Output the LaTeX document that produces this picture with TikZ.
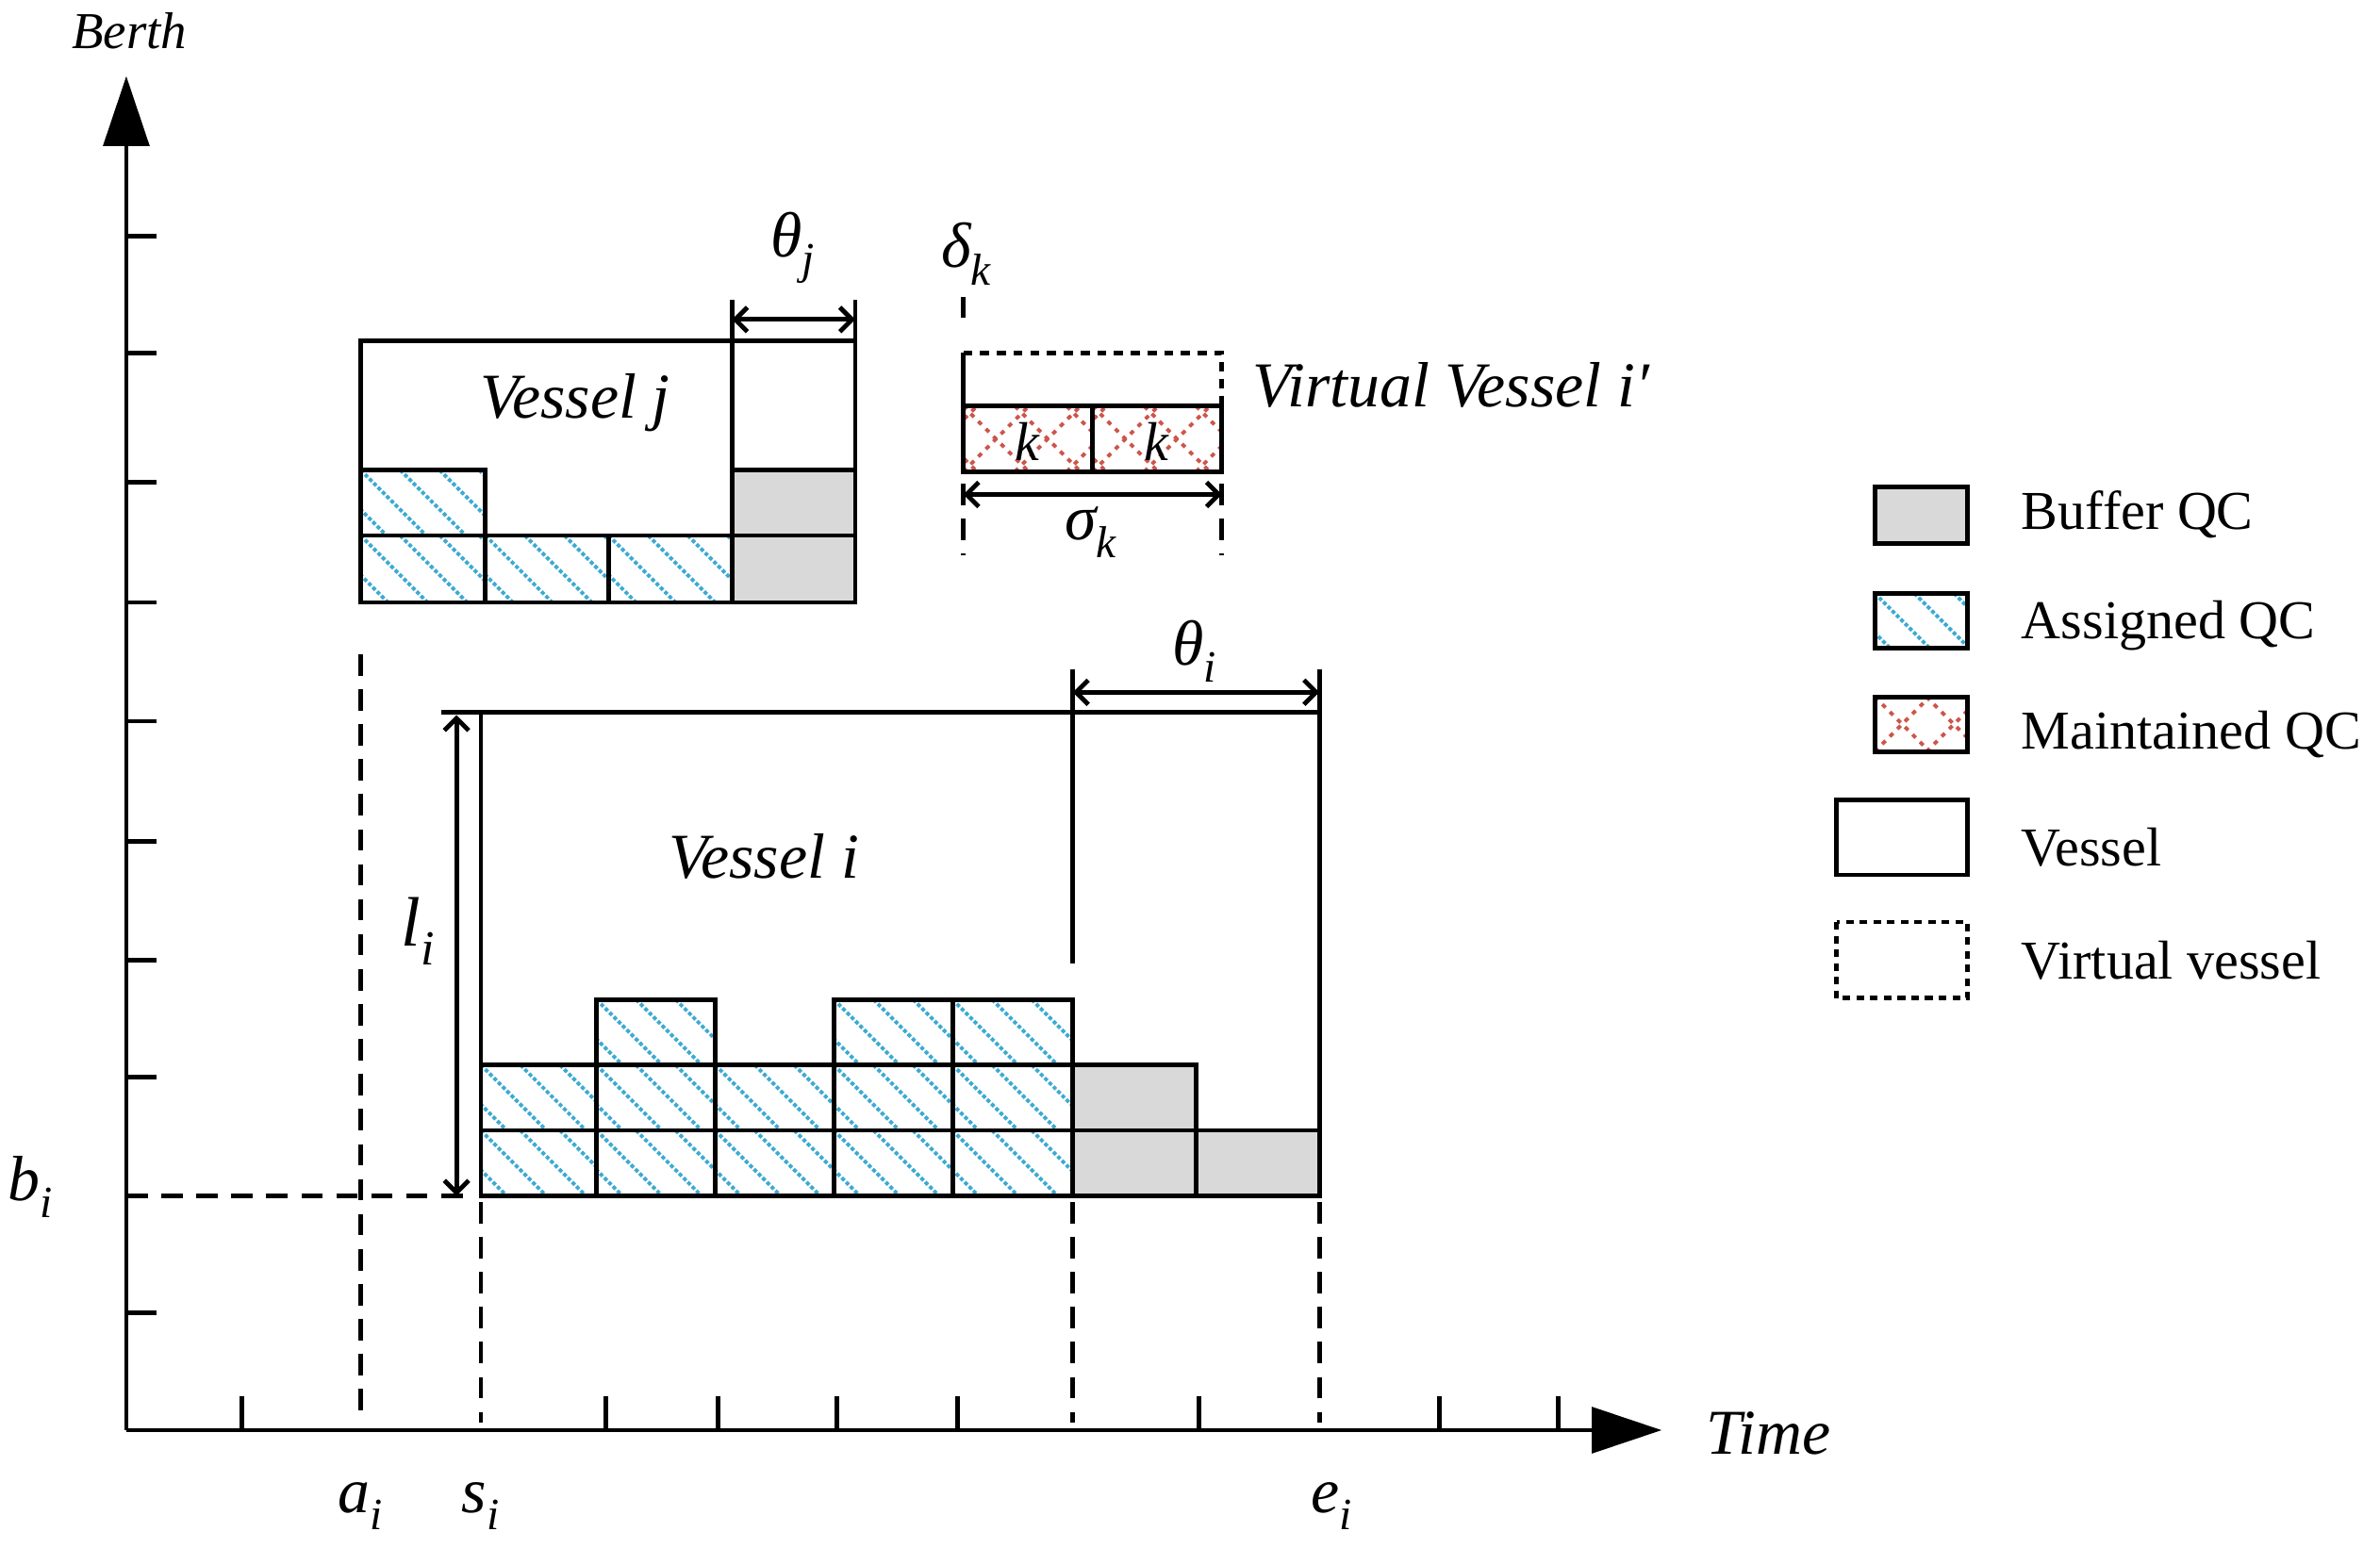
\documentclass[tikz,border=0pt]{standalone}
\usepackage{fontspec}
\setmainfont{Liberation Serif}
\usetikzlibrary{arrows.meta}
\definecolor{hcyan}{RGB}{60,170,210}
\definecolor{hred}{RGB}{205,85,75}
\definecolor{bgray}{RGB}{217,217,217}
\newcommand\sbl[2]{\textit{#1}\textsubscript{\textit{#2}}}
\begin{document}
\begin{tikzpicture}[x=1pt,y=-1pt,line width=3pt,
  lab/.style={font=\fontsize{42}{48}\selectfont\itshape,inner sep=0pt},
  leg/.style={font=\fontsize{36}{42}\selectfont,anchor=west,inner sep=0pt},
  buf/.style={draw,fill=bgray},
  asg/.style={draw,fill=white,path picture={\foreach \i in {-6,...,6}{\draw[hcyan,line width=2.4pt,dash pattern=on 2.5pt off 1.5pt] ([xshift=\i*26pt]path picture bounding box.north west) -- ++(80pt,-80pt);}}},
  mnt/.style={draw,fill=white,path picture={\foreach \i in {-6,...,6}{\draw[hred,line width=2.4pt,dash pattern=on 3pt off 4pt] ([xshift=\i*34pt]path picture bounding box.north west) -- ++(80pt,-80pt); \draw[hred,line width=2.4pt,dash pattern=on 3pt off 4pt] ([xshift=\i*34pt]path picture bounding box.south west) -- ++(80pt,80pt);}}},
  dsh/.style={dash pattern=on 14pt off 9pt},
  dim/.style={{Straight Barb[length=8pt,width=16pt]}-{Straight Barb[length=8pt,width=16pt]}}]
\useasboundingbox (0,0) rectangle (1564,1017);
% axes
\coordinate (O) at (83,940);
\coordinate (Ytip) at (83,50);
\coordinate (Xtip) at (1092,940);
\draw[-{Triangle[length=46pt,width=30pt]}] (O) -- (Ytip);
\draw[-{Triangle[length=46pt,width=30pt]}] (O) -- (Xtip);
\foreach \y in {155,232,317,396,474,553,631,708,863} \draw (83,\y) -- (103,\y);
\foreach \x in {159,398,472,550,629,788,946,1024} \draw (\x,940) -- (\x,918);
\node[lab,font=\fontsize{34}{40}\selectfont\itshape] (berth) at (85,20) {Berth};
\node[lab] (time) at (1162,942) {Time};
% vessel j
\draw (237,224) rectangle (562,396);
\draw (481,224) -- (481,396);
\draw[asg] (237,309) rectangle (319,352);
\draw[asg] (237,352) rectangle (319,396);
\draw[asg] (319,352) rectangle (400,396);
\draw[asg] (400,352) rectangle (481,396);
\draw[buf] (481,309) rectangle (562,352);
\draw[buf] (481,352) rectangle (562,396);
\draw (481,224) -- (481,197) (562,224) -- (562,197);
\coordinate (tj1) at (481,210); \coordinate (tj2) at (562,210);
\draw[dim] (tj1) -- (tj2);
\node[lab] (thj) at (521,163) {\sbl{θ}{j}};
\node[lab] (vj) at (378,265) {Vessel j};
% virtual vessel
\draw[dash pattern=on 6pt off 5pt] (633,232) -- (803,232) -- (803,267);
\draw (633,232) -- (633,267);
\draw[mnt] (633,267) rectangle (718,310);
\draw[mnt] (718,267) rectangle (803,310);
\draw[dsh] (633,195) -- (633,218);
\draw[dsh] (633,318) -- (633,365) (803,318) -- (803,365);
\coordinate (sk1) at (633,325); \coordinate (sk2) at (803,325);
\draw[dim] (sk1) -- (sk2);
\node[lab,font=\fontsize{36}{40}\selectfont\itshape] at (675,290) {k};
\node[lab,font=\fontsize{36}{40}\selectfont\itshape] at (760,290) {k};
\node[lab] (dk) at (635,167) {\sbl{δ}{k}};
\node[lab] (sk) at (717,350) {\sbl{σ}{k}};
\node[lab,anchor=west] (vv) at (822,253) {Virtual Vessel i′};
% vessel i
\draw (290,468) -- (867,468);
\draw (316,468) -- (316,786);
\draw (867,468) -- (867,786);
\draw (705,440) -- (705,633);
\draw (867,468) -- (867,440);
\coordinate (ti1) at (705,455); \coordinate (ti2) at (867,455);
\draw[dim] (ti1) -- (ti2);
\node[lab] (thi) at (785,428) {\sbl{θ}{i}};
\coordinate (l1) at (300,470); \coordinate (l2) at (300,786);
\draw[dim] (l1) -- (l2);
\node[lab,font=\fontsize{46}{50}\selectfont\itshape] (li) at (275,612) {\sbl{l}{i}};
\node[lab] (vi) at (502,563) {Vessel i};
\foreach \a/\b in {316/392,392/470,470/548,548/626,626/705}{
  \draw[asg] (\a,743) rectangle (\b,786);
  \draw[asg] (\a,700) rectangle (\b,743);}
\foreach \a/\b in {392/470,548/626,626/705} \draw[asg] (\a,657) rectangle (\b,700);
\draw[buf] (705,700) rectangle (786,743);
\draw[buf] (705,743) rectangle (786,786);
\draw[buf] (786,743) rectangle (867,786);
% dashed guides
\draw[dsh] (83,786) -- (305,786);
\draw[dsh] (237,430) -- (237,935);
\draw[dsh] (316,790) -- (316,935);
\draw[dsh] (705,790) -- (705,935);
\draw[dsh] (867,790) -- (867,935);
\node[lab] (ai) at (237,990) {\sbl{a}{i}};
\node[lab] (si) at (316,990) {\sbl{s}{i}};
\node[lab] (ei) at (875,990) {\sbl{e}{i}};
\node[lab] (bi) at (20,780) {\sbl{b}{i}};
% legend
\draw[buf] (1232,320) rectangle (1293,357);
\draw[asg] (1232,390) rectangle (1293,426);
\draw[mnt] (1232,458) rectangle (1293,494);
\draw (1207,526) rectangle (1293,575);
\draw[dash pattern=on 5pt off 4pt] (1207,606) rectangle (1293,656);
\node[leg] at (1327,338) {Buffer QC};
\node[leg] at (1327,411) {Assigned QC};
\node[leg] at (1327,483) {Maintained QC};
\node[leg] at (1327,557) {Vessel};
\node[leg] at (1327,631) {Virtual vessel};
\end{tikzpicture}
\end{document}
